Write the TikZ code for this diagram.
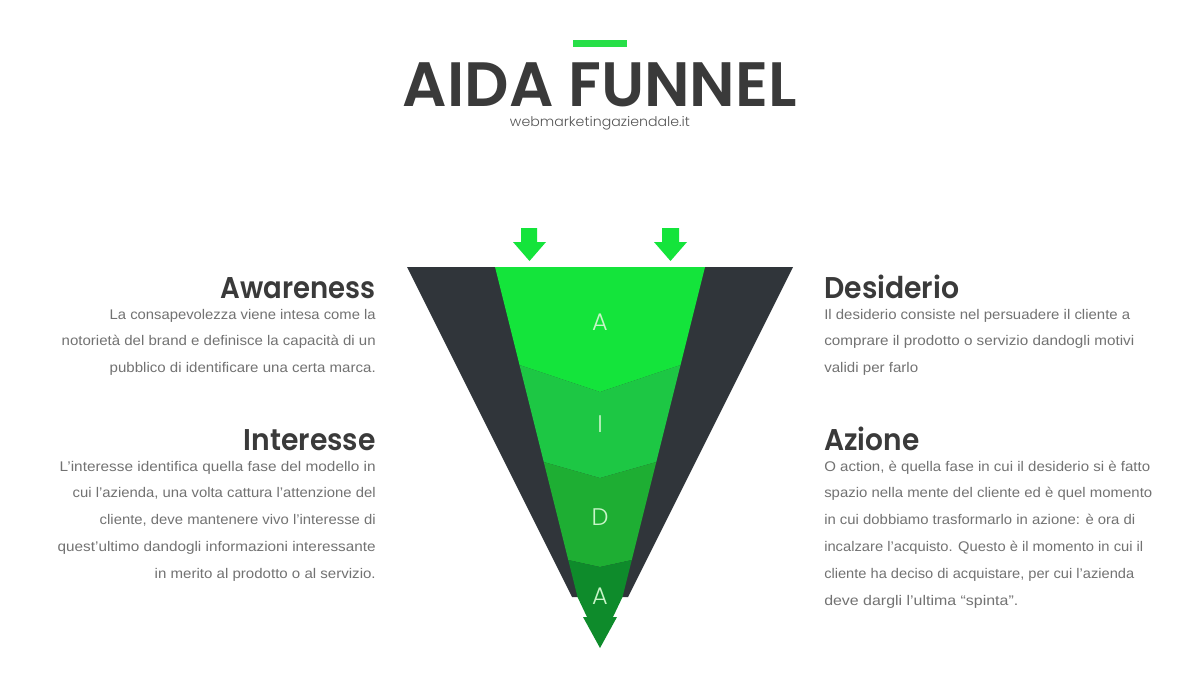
\documentclass[tikz,border=0pt]{standalone}
\usepackage{fontspec}
\usepackage{graphicx}
\setmainfont{Liberation Sans}
\newfontfamily\titlef{Poppins SemiBold}
\newfontfamily\lightf{Poppins Light}
\definecolor{funneldark}{HTML}{30353A}
\definecolor{gone}{HTML}{14E43B}
\definecolor{gtwo}{HTML}{1DC744}
\definecolor{gthree}{HTML}{1EAE33}
\definecolor{gfour}{HTML}{0E8B2B}
\definecolor{titlegray}{HTML}{3A3A3A}
\definecolor{bodygray}{HTML}{727272}
\definecolor{subgray}{HTML}{555555}
\definecolor{lettercol}{HTML}{C8F5C8}
\definecolor{barcol}{HTML}{27DF48}
\newdimen\pxu \pxu=0.75pt
\newcommand\fitw[2]{\resizebox{#1\pxu}{\height}{#2}}
\tikzset{
  bodyL/.style={anchor=base east, inner sep=0pt, text=bodygray, font=\fontsize{10.5pt}{12pt}\selectfont},
  bodyR/.style={anchor=base west, inner sep=0pt, text=bodygray, font=\fontsize{10.5pt}{12pt}\selectfont},
  headL/.style={anchor=base east, inner sep=0pt, text=titlegray, font=\titlef\fontsize{22.5pt}{24pt}\selectfont},
  headR/.style={anchor=base west, inner sep=0pt, text=titlegray, font=\titlef\fontsize{22.5pt}{24pt}\selectfont},
  funletter/.style={anchor=base, inner sep=0pt, text=lettercol, font=\lightf\fontsize{18pt}{20pt}\selectfont},
}
\begin{document}
\begin{tikzpicture}[x=0.75pt, y=-0.75pt]
\useasboundingbox[fill=white] (0,0) rectangle (1200,675);
% title
\fill[barcol] (573,40) rectangle (627,47);
\node[anchor=base, inner sep=0pt, text=titlegray, font=\titlef\fontsize{47pt}{50pt}\selectfont] (title) at (600,106) {\fitw{394}{AIDA FUNNEL}};
\node[anchor=base, inner sep=0pt, text=subgray, font=\lightf\fontsize{10pt}{12pt}\selectfont] (sub) at (600,126) {\fitw{180}{webmarketingaziendale.it}};
% funnel
\fill[funneldark] (407,267) -- (793,267) -- (628,597) -- (572,597) -- cycle;
\fill[gone] (495,267) -- (705,267) -- (680.5,365) -- (600,392) -- (519.5,365) -- cycle;
\fill[gtwo] (519.5,365) -- (600,392) -- (680.5,365) -- (656.25,462) -- (600,478) -- (543.75,462) -- cycle;
\fill[gthree] (543.75,462) -- (600,478) -- (656.25,462) -- (631.75,560) -- (600,567) -- (568.25,560) -- cycle;
\fill[gfour] (568.25,560) -- (600,567) -- (631.75,560) -- (622.5,597) -- (613,617) -- (617,617) -- (600,648) -- (583,617) -- (587,617) -- (577.5,597) -- cycle;
% top arrows
\fill[gone] (521,228) -- (537,228) -- (537,242) -- (546,242) -- (529.5,261) -- (513,242) -- (521,242) -- cycle;
\fill[gone] (662,228) -- (679,228) -- (679,242) -- (687,242) -- (670.5,261) -- (654,242) -- (662,242) -- cycle;
% funnel letters
\node[funletter] (la) at (600,330) {A};
\node[funletter] (li) at (600,432) {I};
\node[funletter] (ld) at (600,525) {D};
\node[funletter] (lb) at (600,604) {A};
% left texts
\node[headL] (hAw) at (376,298) {\fitw{155}{Awareness}};
\node[bodyL] (aw1) at (376,319) {\fitw{266}{La consapevolezza viene intesa come la}};
\node[bodyL] (aw2) at (376,345) {\fitw{314}{notorietà del brand e definisce la capacità di un}};
\node[bodyL] (aw3) at (376,372) {\fitw{266}{pubblico di identificare una certa marca.}};
\node[headL] (hIn) at (376,450) {\fitw{132}{Interesse}};
\node[bodyL] (in1) at (376,471) {\fitw{316}{L’interesse identifica quella fase del modello in}};
\node[bodyL] (in2) at (376,497) {\fitw{303}{cui l’azienda, una volta cattura l’attenzione del}};
\node[bodyL] (in3) at (376,524) {\fitw{276}{cliente, deve mantenere vivo l’interesse di}};
\node[bodyL] (in4) at (376,551) {\fitw{318}{quest’ultimo dandogli informazioni interessante}};
\node[bodyL] (in5) at (376,578) {\fitw{221}{in merito al prodotto o al servizio.}};
% right texts
\node[headR] (hDe) at (824,298) {\fitw{135}{Desiderio}};
\node[bodyR] (de1) at (824,319) {\fitw{306}{Il desiderio consiste nel persuadere il cliente a}};
\node[bodyR] (de2) at (824,345) {\fitw{310}{comprare il prodotto o servizio dandogli motivi}};
\node[bodyR] (de3) at (824,372) {\fitw{94}{validi per farlo}};
\node[headR] (hAz) at (824,450) {\fitw{95}{Azione}};
\node[bodyR] (az1) at (824,471) {\fitw{326}{O action, è quella fase in cui il desiderio si è fatto}};
\node[bodyR] (az2) at (824,497) {\fitw{328}{spazio nella mente del cliente ed è quel momento}};
\node[bodyR] (az3) at (824,524) {\fitw{311}{in cui dobbiamo trasformarlo in azione: è ora di}};
\node[bodyR] (az4) at (824,551) {\fitw{319}{incalzare l’acquisto. Questo è il momento in cui il}};
\node[bodyR] (az5) at (824,578) {\fitw{310}{cliente ha deciso di acquistare, per cui l’azienda}};
\node[bodyR] (az6) at (824,605) {\fitw{194}{deve dargli l’ultima “spinta”.}};
\end{tikzpicture}
\end{document}
